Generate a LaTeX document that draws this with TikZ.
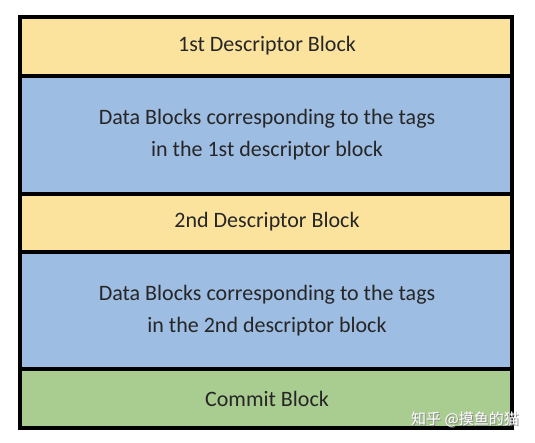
\documentclass[tikz,border=0pt]{standalone}
\usepackage{fontspec}
\setmainfont{Carlito}
\newfontfamily\cjk{Noto Sans CJK SC}
\definecolor{yel}{HTML}{FBE39E}
\definecolor{blu}{HTML}{9EBDE2}
\definecolor{grn}{HTML}{A9CC91}
\tikzset{
  blk/.style={draw=black, line width=4pt},
  lbl/.style={font=\fontsize{22}{32}\selectfont, align=center, text=black!85}
}
\begin{document}
\begin{tikzpicture}[x=1pt,y=-1pt]
\useasboundingbox[fill=white] (0,0) rectangle (535,442);
\fill[yel] (20,17) rectangle (512,75.5);
\fill[blu] (20,75.5) rectangle (512,193.5);
\fill[yel] (20,193.5) rectangle (512,251.5);
\fill[blu] (20,251.5) rectangle (512,369);
\fill[grn] (20,369) rectangle (512,428);
\draw[blk] (20,17) rectangle (512,428);
\draw[blk] (20,75.5) -- (512,75.5);
\draw[blk] (20,193.5) -- (512,193.5);
\draw[blk] (20,251.5) -- (512,251.5);
\draw[blk] (20,369) -- (512,369);
\node[lbl] (d1) at (267,46) {1st Descriptor Block};
\node[lbl] (b1) at (267,134.5) {Data Blocks corresponding to the tags\\in the 1st descriptor block};
\node[lbl] (d2) at (267,222) {2nd Descriptor Block};
\node[lbl] (b2) at (267,310.5) {Data Blocks corresponding to the tags\\in the 2nd descriptor block};
\node[lbl] (c) at (267,398.5) {Commit Block};
\node[font=\cjk\fontsize{15}{15}\selectfont, text=black!45] (wms) at (466,420) {知乎 @摸鱼的猫};
\node[font=\cjk\fontsize{15}{15}\selectfont, text=white] (wm) at (465,419) {知乎 @摸鱼的猫};
\end{tikzpicture}
\end{document}
